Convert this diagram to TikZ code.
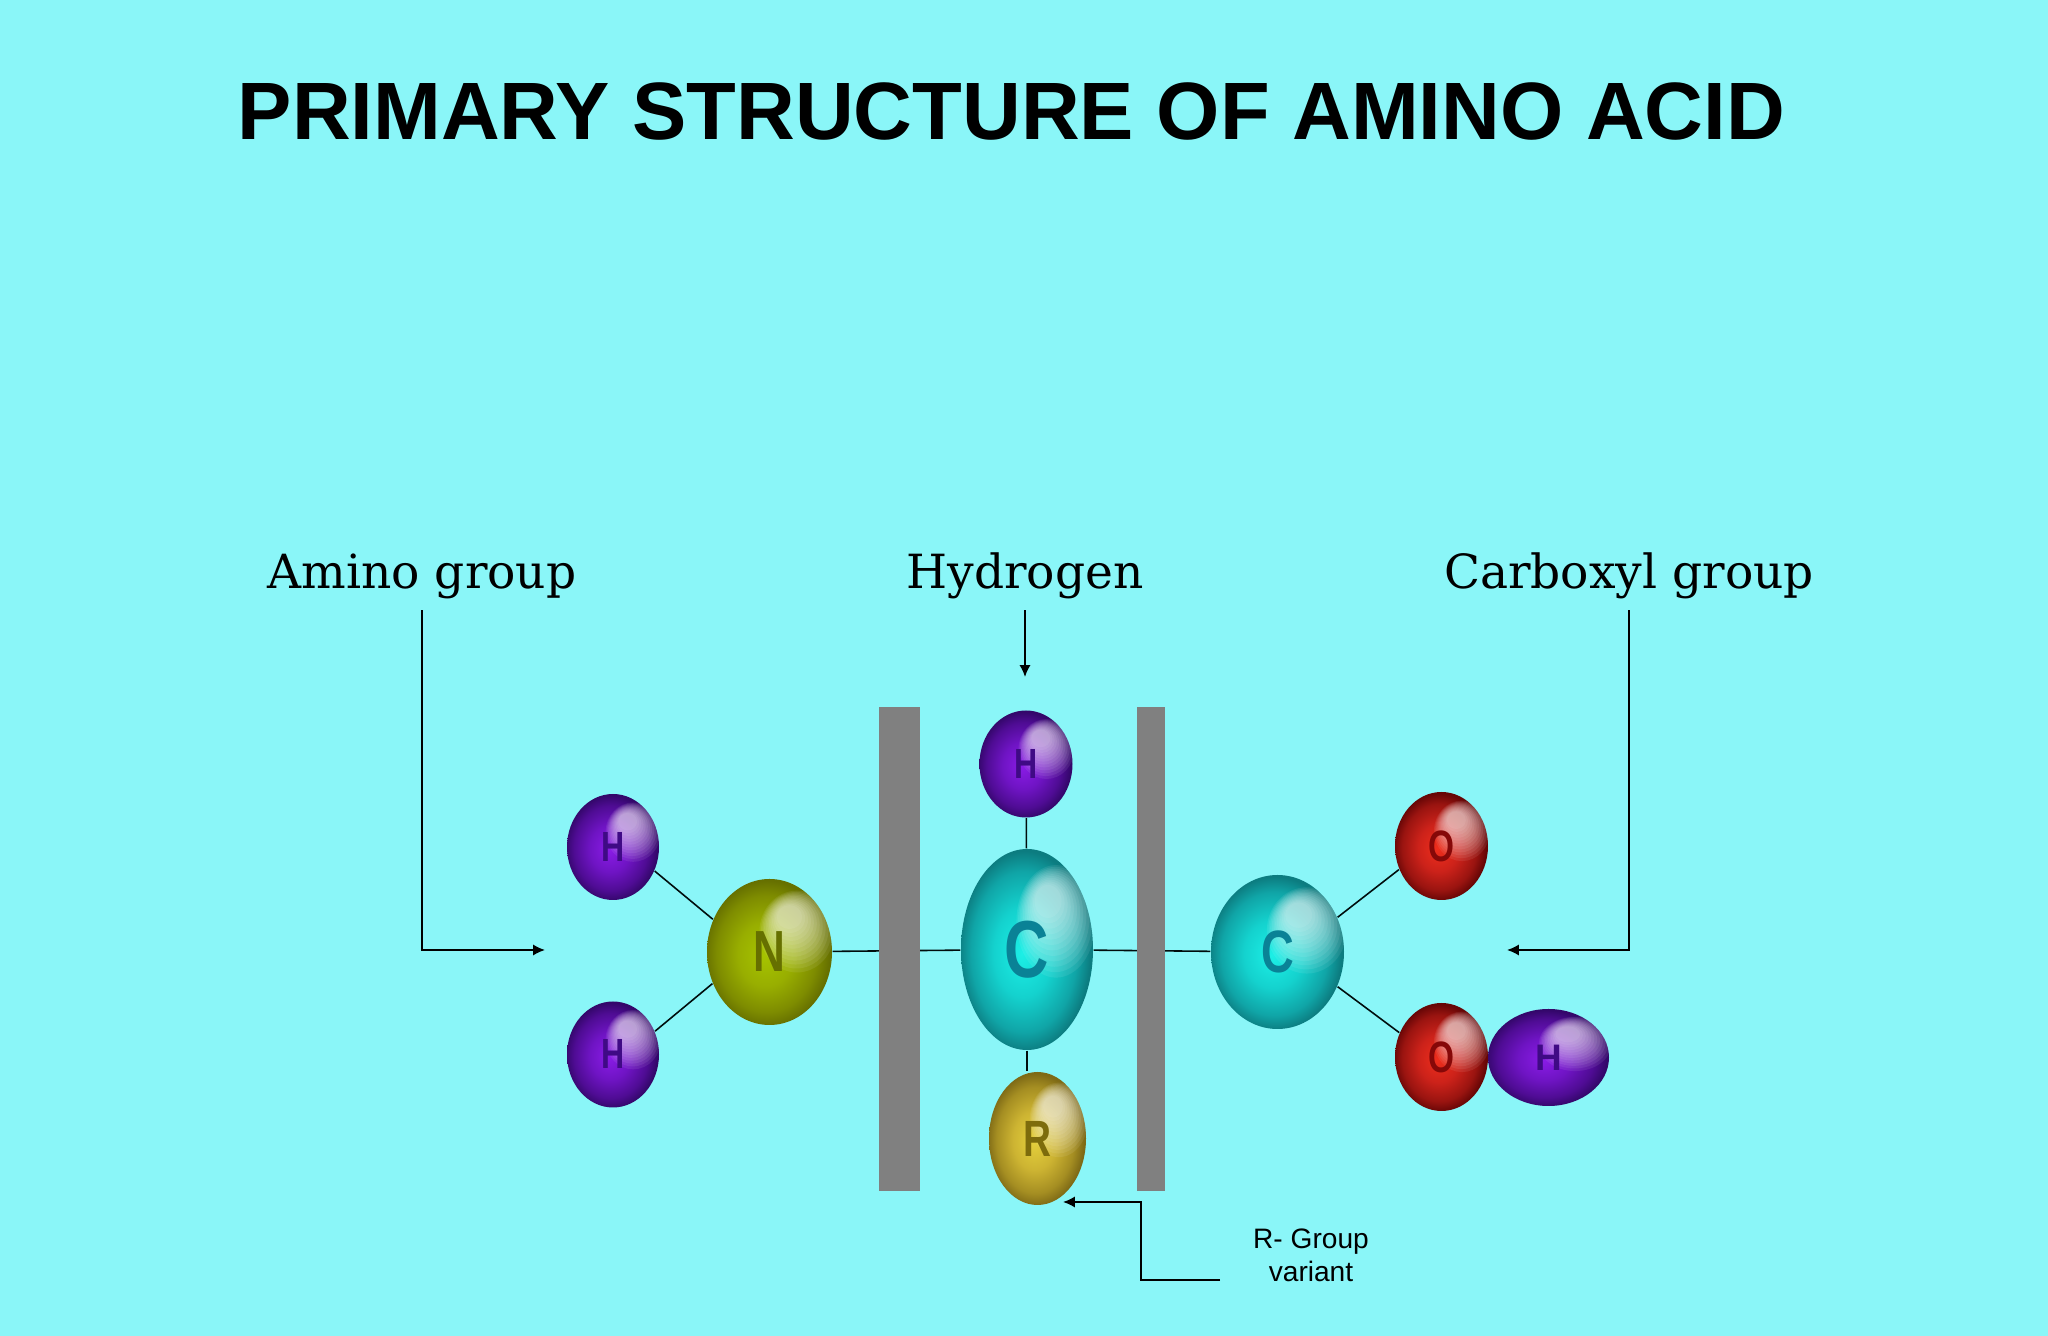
\documentclass[tikz,border=0pt]{standalone}
\usepackage{fontspec}
\setmainfont{DejaVu Serif}
\newfontfamily\titlefont{Liberation Sans}
\newfontfamily\atomfont[FakeStretch=0.76]{Liberation Sans}
\usetikzlibrary{shapes.geometric,arrows.meta}

\definecolor{pagebg}{HTML}{8AF6F8}
\definecolor{barcol}{HTML}{808080}
\definecolor{inkH}{HTML}{3F0A85}
\definecolor{inkN}{HTML}{667000}
\definecolor{inkC}{HTML}{0A8296}
\definecolor{inkO}{HTML}{860808}
\definecolor{inkR}{HTML}{7D6C0C}

% one shading per kind of atom: centre, body, rim band, outer edge
\newcommand{\atomshade}[5]{%
    \definecolor{#1a}{HTML}{#2}\definecolor{#1b}{HTML}{#3}\definecolor{#1c}{HTML}{#4}\definecolor{#1d}{HTML}{#5}%
    \pgfdeclareradialshading{#1}{\pgfpoint{-2bp}{-1bp}}{%
        color(0bp)=(#1a); color(11bp)=(#1b); color(20bp)=(#1c); color(25bp)=(#1d); color(29bp)=(#1d); color(50bp)=(#1d)}%
}
\atomshade{hshade}{8A1CE6}{6F14C4}{4F0C94}{33076A}
\atomshade{nshade}{A6C400}{98AE00}{7E8C00}{667000}
\atomshade{cshade}{1CEFE6}{14D2CE}{10A5A7}{0C7C80}
\atomshade{oshade}{EE2E1C}{CC221A}{9A1410}{660606}
\atomshade{rshade}{E4D03C}{CDB432}{A58E22}{7E6A16}

\tikzset{
    atom/.style n args={3}{ellipse,inner sep=0pt,minimum width=#2 cm,minimum height=#3 cm,shading=#1,
        path picture={
            \foreach \k in {0,...,11}{
                \fill[white,opacity=0.08]
                    ([shift={({(0.22-0.0055*\k)*#2},{(0.14+0.009*\k)*#3})}]path picture bounding box.center)
                    ellipse ({(0.30-0.018*\k)*#2} and {(0.28-0.018*\k)*#3});
            }
        }},
    letter/.style n args={2}{text=#1,font=\atomfont\bfseries\fontsize{#2}{#2}\selectfont},
    bond/.style={line width=0.45pt,black!90!teal},
    pointer/.style={line width=0.5pt,black,-{Latex[length=3.4pt,width=3.2pt]}},
    grouplabel/.style={font=\fontsize{13.4}{16}\selectfont,inner sep=0pt,outer ysep=0.11cm,anchor=base}
}

\begin{document}
\begin{tikzpicture}
    \fill[pagebg] (0,0) rectangle (20.48,13.36);
    \useasboundingbox (0,0) rectangle (20.48,13.36);

    \node (mainTitle) at (10.115,12.24) {\titlefont\bfseries\fontsize{23.15}{28}\selectfont PRIMARY STRUCTURE OF AMINO ACID};

    % atoms
    \node[atom={hshade}{0.92}{1.06},letter={inkH}{12}] (hUp) at (6.13,4.89) {H};
    \node[atom={hshade}{0.92}{1.06},letter={inkH}{12}] (hDown) at (6.13,2.815) {H};
    \node[atom={nshade}{1.25}{1.46},letter={inkN}{16.5}] (nAtom) at (7.695,3.84) {N};
    \node[atom={hshade}{0.93}{1.07},letter={inkH}{12}] (hTop) at (10.26,5.72) {H};
    \node[atom={cshade}{1.32}{2.01},letter={inkC}{23}] (cAlpha) at (10.27,3.865) {C};
    \node[atom={rshade}{0.97}{1.33},letter={inkR}{14.5}] (rAtom) at (10.375,1.975) {R};
    \node[atom={cshade}{1.33}{1.54},letter={inkC}{17}] (cCarb) at (12.775,3.84) {C};
    \node[atom={oshade}{0.93}{1.08},letter={inkO}{12.5}] (oTop) at (14.415,4.90) {O};
    \node[atom={oshade}{0.93}{1.08},letter={inkO}{12.5}] (oBot) at (14.415,2.79) {O};
    \node[atom={hshade}{1.21}{0.97},letter={inkH}{10.5}] (hEnd) at (15.485,2.785) {\titlefont\bfseries H};

    % bonds, the two bars go over them
    \draw[bond] (hUp.-30)--(nAtom.150);
    \draw[bond] (hDown.29)--(nAtom.209);
    \draw[bond] (nAtom)--(cAlpha);
    \draw[bond] (cAlpha)--(cCarb);
    \draw[bond] (hTop)--(cAlpha);
    \draw[bond] (cAlpha.south)--(cAlpha.south|-rAtom.north);
    \draw[bond] (cCarb.30)--(oTop.209);
    \draw[bond] (cCarb.-30)--(oBot.150);
    \fill[barcol] (8.79,1.45) rectangle (9.20,6.29);
    \fill[barcol] (11.37,1.45) rectangle (11.65,6.29);

    % labels and their arrows
    \node[grouplabel] (aminoLabel) at (4.22,7.47) {Amino group};
    \node[grouplabel] (hydroLabel) at (10.25,7.47) {Hydrogen};
    \node[grouplabel] (carboxLabel) at (16.29,7.47) {Carboxyl group};
    \node[align=center,inner sep=0pt,font=\titlefont\fontsize{8}{9.4}\selectfont] (rLabel) at (13.11,0.81) {R- Group\\variant};
    \coordinate (aminoTip) at (5.45,3.86);
    \coordinate (hydroTip) at (10.25,6.59);
    \coordinate (carboxTip) at (15.07,3.86);
    \coordinate (rStart) at (12.20,0.56);
    \coordinate (rBend) at (11.41,1.34);
    \coordinate (rTip) at (10.63,1.34);
    \draw[pointer] (aminoLabel.south)|-(aminoTip);
    \draw[pointer] (hydroLabel.south)--(hydroTip);
    \draw[pointer] (carboxLabel.south)|-(carboxTip);
    \draw[pointer] (rStart)-|(rBend)--(rTip);
\end{tikzpicture}
\end{document}
